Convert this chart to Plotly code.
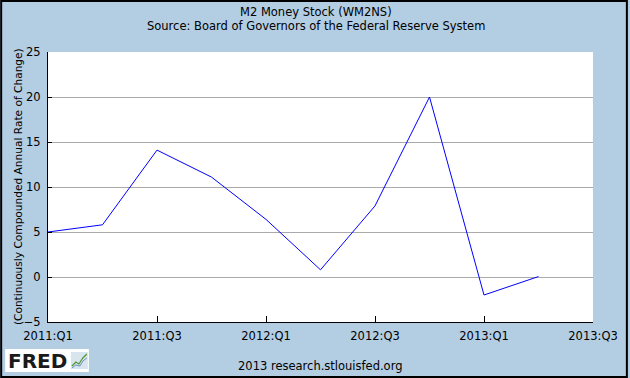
import plotly.graph_objects as go

quarters = ["2011:Q1", "2011:Q2", "2011:Q3", "2011:Q4", "2012:Q1",
            "2012:Q2", "2012:Q3", "2012:Q4", "2013:Q1", "2013:Q2"]
values = [5.0, 5.8, 14.1, 11.1, 6.4, 0.8, 7.9, 20.0, -2.0, 0.05]
tick_labels = ["2011:Q1", "2011:Q3", "2012:Q1", "2012:Q3", "2013:Q1", "2013:Q3"]

W, H = 630, 378
L, R, T, B = 48, 35, 52, 56
PW, PH = W - L - R, H - T - B

def px(x):
    return (x - L) / PW

def py(y):
    return (H - B - y) / PH

x_idx = list(range(len(quarters)))
tick_idx = [0, 2, 4, 6, 8, 10]

FONT = "DejaVu Sans"
FS = 11.5
BG = "#B3CDE3"

fig = go.Figure()
fig.add_trace(go.Scatter(x=x_idx, y=values, mode="lines",
                         line=dict(color="#0000FF", width=1),
                         text=quarters, hoverinfo="text+y", showlegend=False))

shapes = [
    # outer border
    dict(type="rect", xref="paper", yref="paper", x0=px(1), x1=px(629), y0=py(1), y1=py(377),
         line=dict(color="black", width=2), layer="above"),
    # FRED logo box
    dict(type="rect", xref="paper", yref="paper", x0=px(5), x1=px(89), y0=py(349), y1=py(372),
         line=dict(width=0), fillcolor="white", layer="above"),
    dict(type="rect", xref="paper", yref="paper", x0=px(71), x1=px(88), y0=py(352), y1=py(369),
         line=dict(width=0), fillcolor="#D8E4EE", layer="above"),
    dict(type="path", xref="paper", yref="paper",
         path=f"M {px(72)},{py(366)} L {px(76)},{py(362)} L {px(79)},{py(364)} L {px(83)},{py(358)} L {px(87)},{py(354)}",
         line=dict(color="#4E9A2E", width=1.2), layer="above"),
    dict(type="path", xref="paper", yref="paper",
         path=f"M {px(72)},{py(368)} L {px(76)},{py(365)} L {px(80)},{py(366)} L {px(83)},{py(361)} L {px(87)},{py(358)}",
         line=dict(color="#6C8EBF", width=1), layer="above"),
]

annotations = [
    dict(text="M2 Money Stock (WM2NS)", xref="paper", yref="paper", x=px(317), y=py(12.5),
         showarrow=False, font=dict(family=FONT, size=FS, color="black"), xanchor="center", yanchor="middle"),
    dict(text="Source: Board of Governors of the Federal Reserve System", xref="paper", yref="paper",
         x=px(317), y=py(26.5), showarrow=False, font=dict(family=FONT, size=FS, color="black"),
         xanchor="center", yanchor="middle"),
    dict(text="2013 research.stlouisfed.org", xref="paper", yref="paper", x=px(321), y=py(366),
         showarrow=False, font=dict(family=FONT, size=FS, color="black"), xanchor="center", yanchor="middle"),
    dict(text="<b>FRED</b>", xref="paper", yref="paper", x=px(6), y=py(361),
         showarrow=False, font=dict(family=FONT, size=20, color="#1A1A1A"), xanchor="left", yanchor="middle"),
    dict(text="(Continuously Compounded Annual Rate of Change)", xref="paper", yref="paper",
         x=px(18), y=py(187), textangle=-90, showarrow=False,
         font=dict(family=FONT, size=10.6, color="black"), xanchor="center", yanchor="middle"),
]

fig.update_layout(
    width=W, height=H,
    margin=dict(l=L, r=R, t=T, b=B, pad=0),
    paper_bgcolor=BG, plot_bgcolor="white",
    font=dict(family=FONT, size=FS, color="black"),
    shapes=shapes, annotations=annotations,
    xaxis=dict(range=[0, 10], tickmode="array", tickvals=tick_idx, ticktext=tick_labels,
               showgrid=False, zeroline=False, showline=True, linecolor="black", linewidth=1,
               ticks="inside", ticklen=6, tickcolor="black", tickwidth=1, ticklabelstandoff=3,
               tickfont=dict(family=FONT, size=FS, color="black"), fixedrange=True),
    yaxis=dict(range=[-5, 25], dtick=5, tick0=0, showgrid=True, gridcolor="#AAAAAA", gridwidth=1,
               zeroline=False, showline=True, linecolor="black", linewidth=1,
               ticks="inside", ticklen=4, tickcolor="black", ticklabelstandoff=4,
               tickfont=dict(family=FONT, size=FS, color="black"),
               fixedrange=True),
)

fig.write_html("out.html", config={"displayModeBar": False},
               post_script="document.body.style.margin='0';document.body.style.overflow='hidden';")
